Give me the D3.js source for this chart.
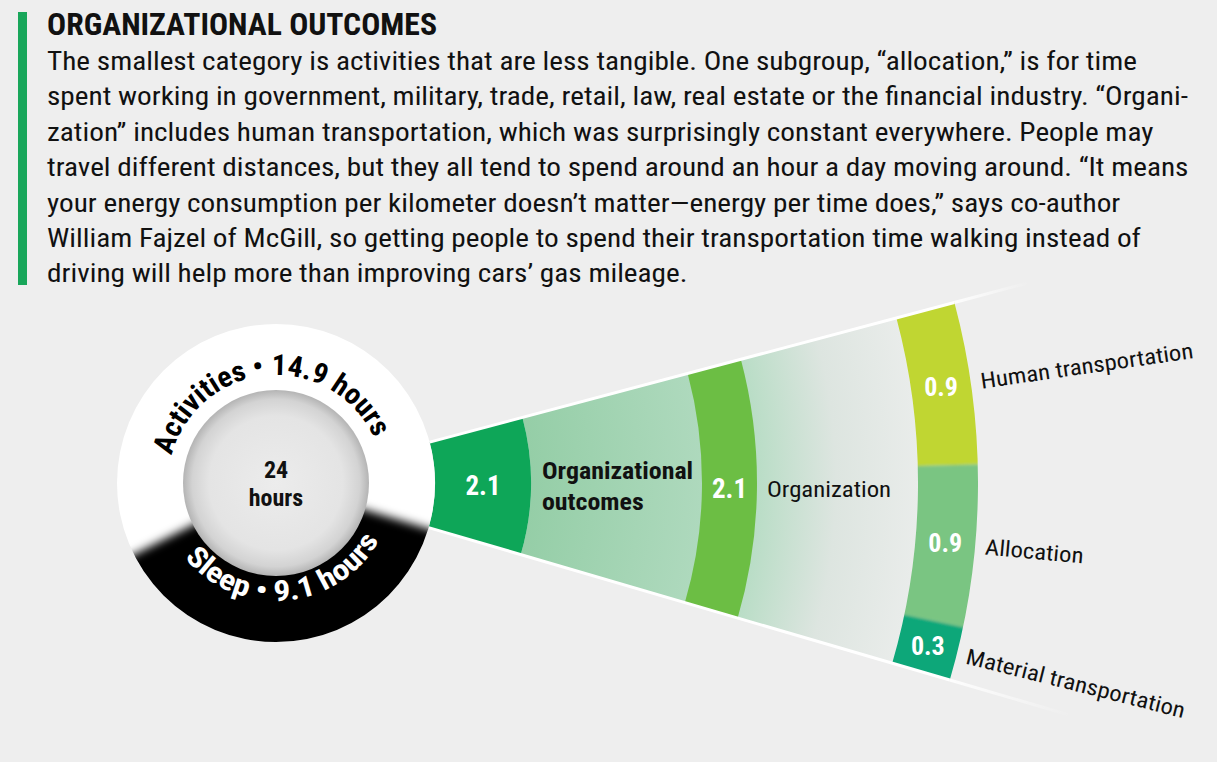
<!DOCTYPE html>
<html>
<head>
<meta charset="utf-8">
<script src="https://cdn.jsdelivr.net/npm/d3@7"></script>
<style>
  body { margin: 0; background: #eeeeee; }
</style>
</head>
<body>
<div id="chart"></div>
<script>
const width = 1217, height = 762;

// ---- data ----
const titleText = "ORGANIZATIONAL OUTCOMES";
const bodyLines = [
  "The smallest category is activities that are less tangible. One subgroup, \u201callocation,\u201d is for time",
  "spent working in government, military, trade, retail, law, real estate or the financial industry. \u201cOrgani-",
  "zation\u201d includes human transportation, which was surprisingly constant everywhere. People may",
  "travel different distances, but they all tend to spend around an hour a day moving around. \u201cIt means",
  "your energy consumption per kilometer doesn\u2019t matter\u2014energy per time does,\u201d says co-author",
  "William Fajzel of McGill, so getting people to spend their transportation time walking instead of",
  "driving will help more than improving cars\u2019 gas mileage."
];
const totalHours = 24;
const dayParts = ["Activities", "Sleep"];
const dayHours = [14.9, 9.1];
const levelNames = ["Organizational outcomes", "Organization"];
const levelHours = [2.1, 2.1];
const subNames = ["Human transportation", "Allocation", "Material transportation"];
const subHours = [0.9, 0.9, 0.3];

// ---- layout ----
const FONT = '"Liberation Sans Narrow", "Roboto Condensed", "DejaVu Sans Condensed", Roboto, sans-serif';
const deg = Math.PI / 180;
const cx = 276, cy = 483;
const holeR = 92, donutR = 159, coreR = 255, orgIn = 426, orgOut = 481, subIn = 642, subOut = 702;
const levelColors = ["#0ea658", "#6cbe44"];
const subColors = ["#c0d630", "#7ac582", "#10a779"];

const svg = d3.select('#chart')
  .append('svg')
  .attr('width', width)
  .attr('height', height)
  .style('font-family', FONT);

svg.append('rect').attr('width', width).attr('height', height).attr('fill', '#eeeeee');

const defs = svg.append('defs');

// header
svg.append('rect')
  .attr('x', 18).attr('y', 12).attr('width', 9).attr('height', 273)
  .attr('fill', '#18a65a');

const title = svg.append('text')
  .attr('x', 47).attr('y', 35)
  .attr('font-size', 31).attr('font-weight', 700)
  .attr('fill', '#111')
  .text(titleText);
title.attr('textLength', 390).attr('lengthAdjust', 'spacingAndGlyphs');

const body = svg.append('g')
  .selectAll('text')
  .data(bodyLines)
  .join('text')
  .attr('x', 47)
  .attr('y', (d, i) => 70 + i * 35.4)
  .attr('font-size', 26)
  .attr('fill', '#111')
  .text(d => d);

// squeeze factor so the first line spans like the original
const k = 1090 / body.node().getComputedTextLength();
function squeeze(sel) {
  sel.each(function () {
    const w = this.getComputedTextLength();
    d3.select(this).attr('textLength', w * k).attr('lengthAdjust', 'spacingAndGlyphs');
  });
}
squeeze(body);

// ---- gradients / filters ----
const fanGrad = defs.append('radialGradient')
  .attr('id', 'fanGrad')
  .attr('gradientUnits', 'userSpaceOnUse')
  .attr('cx', 0).attr('cy', 0).attr('r', subOut);
[[coreR / subOut, '#95cea7'], [orgIn / subOut, '#aed9bd'], [orgOut / subOut, '#b9ddc6'],
 [560 / subOut, '#dde5e0'], [subIn / subOut, '#e9ecea']].forEach(s => {
  fanGrad.append('stop').attr('offset', s[0]).attr('stop-color', s[1]);
});

const holeGrad = defs.append('radialGradient').attr('id', 'holeGrad');
[[0, '#ececec'], [0.72, '#e4e4e4'], [0.9, '#d3d3d3'], [1, '#b4b4b4']].forEach(s => {
  holeGrad.append('stop').attr('offset', s[0]).attr('stop-color', s[1]);
});

defs.append('filter').attr('id', 'soft')
  .attr('x', '-20%').attr('y', '-20%').attr('width', '140%').attr('height', '140%')
  .append('feGaussianBlur').attr('stdDeviation', 5);

defs.append('filter').attr('id', 'blend')
  .attr('x', '-5%').attr('y', '-5%').attr('width', '110%').attr('height', '110%')
  .append('feGaussianBlur').attr('stdDeviation', 1.6);

defs.append('clipPath').attr('id', 'ringClip')
  .append('path')
  .attr('d', d3.arc()({ innerRadius: holeR, outerRadius: donutR, startAngle: 0, endAngle: 2 * Math.PI }));

const g = svg.append('g').attr('transform', `translate(${cx},${cy})`);
const pt = (r, a) => [r * Math.sin(a), -r * Math.cos(a)];

// ---- fan ----
const fanTotal = d3.sum(subHours);
const fanAngle = d3.scaleLinear().domain([0, fanTotal]).range([75.1 * deg, 106.3 * deg]);
const fanStart = fanAngle(0), fanEnd = fanAngle(fanTotal);
const fanMid = (fanStart + fanEnd) / 2;

defs.append('clipPath').attr('id', 'subClip')
  .append('path')
  .attr('d', d3.arc()({ innerRadius: subIn, outerRadius: subOut, startAngle: fanStart, endAngle: fanEnd }));

// gradient background of the fan
g.append('path')
  .attr('d', d3.arc()({ innerRadius: coreR, outerRadius: subIn, startAngle: fanStart, endAngle: fanEnd }))
  .attr('fill', 'url(#fanGrad)');

// the two full-width level bands
const levelRadii = [[donutR, coreR], [orgIn, orgOut]];
g.selectAll('path.level')
  .data(levelHours)
  .join('path')
  .attr('class', 'level')
  .attr('d', (d, i) => d3.arc()({
    innerRadius: levelRadii[i][0], outerRadius: levelRadii[i][1],
    startAngle: fanAngle(0), endAngle: fanAngle(d)
  }))
  .attr('fill', (d, i) => levelColors[i]);

// subgroups on the outer band (slightly blended where they meet)
const subPie = d3.pie().sort(null).startAngle(fanStart).endAngle(fanEnd);
const subArcs = subPie(subHours);
const subArc = d3.arc().innerRadius(subIn - 20).outerRadius(subOut + 20);
g.append('g')
  .attr('clip-path', 'url(#subClip)')
  .append('g')
  .attr('filter', 'url(#blend)')
  .selectAll('path.sub')
  .data(subArcs)
  .join('path')
  .attr('class', 'sub')
  .attr('d', (d, i) => subArc({
    startAngle: i === 0 ? d.startAngle - 0.05 : d.startAngle,
    endAngle: i === subArcs.length - 1 ? d.endAngle + 0.05 : d.endAngle
  }))
  .attr('fill', (d, i) => subColors[i]);

// white edges of the fan
[fanStart, fanEnd].forEach((a, i) => {
  const p0 = pt(donutR, a), p1 = pt(subOut, a), p2 = pt(i === 0 ? 780 : 830, a);
  g.append('line')
    .attr('x1', p0[0]).attr('y1', p0[1]).attr('x2', p1[0]).attr('y2', p1[1])
    .attr('stroke', '#fff').attr('stroke-width', 3);
  const lg = defs.append('linearGradient')
    .attr('id', 'fade' + i)
    .attr('gradientUnits', 'userSpaceOnUse')
    .attr('x1', p1[0]).attr('y1', p1[1]).attr('x2', p2[0]).attr('y2', p2[1]);
  lg.append('stop').attr('offset', 0).attr('stop-color', '#fff').attr('stop-opacity', 0.9);
  lg.append('stop').attr('offset', 1).attr('stop-color', '#fff').attr('stop-opacity', 0);
  g.append('line')
    .attr('x1', p1[0]).attr('y1', p1[1]).attr('x2', p2[0]).attr('y2', p2[1])
    .attr('stroke', `url(#fade${i})`).attr('stroke-width', 3);
});

// level labels
const levelMidR = [(donutR + coreR) / 2, (orgIn + orgOut) / 2];
g.selectAll('text.levelValue')
  .data(levelHours)
  .join('text')
  .attr('class', 'levelValue')
  .attr('x', (d, i) => pt(levelMidR[i], fanMid)[0])
  .attr('y', (d, i) => pt(levelMidR[i], fanMid)[1])
  .attr('text-anchor', 'middle')
  .attr('dominant-baseline', 'central')
  .attr('font-size', 27).attr('font-weight', 700)
  .attr('fill', '#fff')
  .text(d => d.toFixed(1));

const outcomeLabel = g.append('text')
  .attr('x', pt(coreR + 11, fanMid)[0])
  .attr('y', pt(coreR + 11, fanMid)[1])
  .attr('font-size', 23).attr('font-weight', 700)
  .attr('fill', '#111');
outcomeLabel.selectAll('tspan')
  .data(["Organizational", "outcomes"])
  .join('tspan')
  .attr('x', pt(coreR + 11, fanMid)[0])
  .attr('dy', (d, i) => i === 0 ? -7 : 31)
  .text(d => d);
outcomeLabel.selectAll('tspan').each(function () {
  const w = this.getComputedTextLength();
  d3.select(this).attr('textLength', w * k).attr('lengthAdjust', 'spacingAndGlyphs');
});

const orgLabel = g.append('text')
  .attr('x', pt(orgOut + 10, fanMid)[0])
  .attr('y', pt(orgOut + 10, fanMid)[1])
  .attr('dominant-baseline', 'central')
  .attr('font-size', 22)
  .attr('fill', '#111')
  .text(levelNames[1]);
squeeze(orgLabel);

// subgroup labels
const midA = d => (d.startAngle + d.endAngle) / 2;
g.selectAll('text.subValue')
  .data(subArcs)
  .join('text')
  .attr('class', 'subValue')
  .attr('x', d => pt((subIn + subOut) / 2, midA(d))[0])
  .attr('y', d => pt((subIn + subOut) / 2, midA(d))[1])
  .attr('text-anchor', 'middle')
  .attr('dominant-baseline', 'central')
  .attr('font-size', 26).attr('font-weight', 700)
  .attr('fill', '#fff')
  .text(d => d.data.toFixed(1));

const subLabels = g.selectAll('text.subName')
  .data(subArcs)
  .join('text')
  .attr('class', 'subName')
  .attr('transform', d => {
    const p = pt(subOut + 10, midA(d));
    return `translate(${p[0]},${p[1]}) rotate(${midA(d) / deg - 90})`;
  })
  .attr('dominant-baseline', 'central')
  .attr('font-size', 22)
  .attr('fill', '#111')
  .text((d, i) => subNames[i]);
squeeze(subLabels);

// ---- donut ----
const sleepMid = 175 * deg;
const startA = sleepMid - (dayHours[0] + dayHours[1] / 2) / totalHours * 2 * Math.PI;
const dayPie = d3.pie().sort(null).startAngle(startA).endAngle(startA + 2 * Math.PI);
const dayArcs = dayPie(dayHours);

g.append('circle').attr('r', donutR).attr('fill', '#fff');

g.append('g')
  .attr('clip-path', 'url(#ringClip)')
  .append('path')
  .attr('d', d3.arc()({ innerRadius: 40, outerRadius: 220, startAngle: dayArcs[1].startAngle, endAngle: dayArcs[1].endAngle }))
  .attr('fill', '#000')
  .attr('filter', 'url(#soft)');

g.append('circle').attr('r', holeR + 1).attr('fill', 'url(#holeGrad)');

// arc labels
const actMid = (dayArcs[0].startAngle + dayArcs[0].endAngle) / 2;
const slpMid = (dayArcs[1].startAngle + dayArcs[1].endAngle) / 2;
const topPath = d3.path();
topPath.arc(0, 0, 108, actMid - Math.PI / 2 - 100 * deg, actMid - Math.PI / 2 + 100 * deg, false);
const botPath = d3.path();
botPath.arc(0, 0, 118, slpMid - Math.PI / 2 + 100 * deg, slpMid - Math.PI / 2 - 100 * deg, true);
defs.append('path').attr('id', 'arcTop').attr('d', topPath.toString());
defs.append('path').attr('id', 'arcBot').attr('d', botPath.toString());

const arcLabels = [
  { href: '#arcTop', text: `${dayParts[0]} \u2022 ${dayHours[0]} hours`, color: '#000', len: 265 },
  { href: '#arcBot', text: `${dayParts[1]} \u2022 ${dayHours[1]} hours`, color: '#fff', len: 230 }
];
arcLabels.forEach(l => {
  g.append('text')
    .attr('font-size', 29).attr('font-weight', 700)
    .attr('fill', l.color)
    .attr('text-anchor', 'middle')
    .append('textPath')
    .attr('href', l.href)
    .attr('startOffset', '50%')
    .attr('textLength', l.len)
    .attr('lengthAdjust', 'spacingAndGlyphs')
    .text(l.text);
});

// centre
g.selectAll('text.centre')
  .data([String(totalHours), 'hours'])
  .join('text')
  .attr('class', 'centre')
  .attr('x', 0)
  .attr('y', (d, i) => i === 0 ? -5 : 23)
  .attr('text-anchor', 'middle')
  .attr('font-size', 24).attr('font-weight', 700)
  .attr('fill', '#111')
  .text(d => d);
</script>
</body>
</html>
